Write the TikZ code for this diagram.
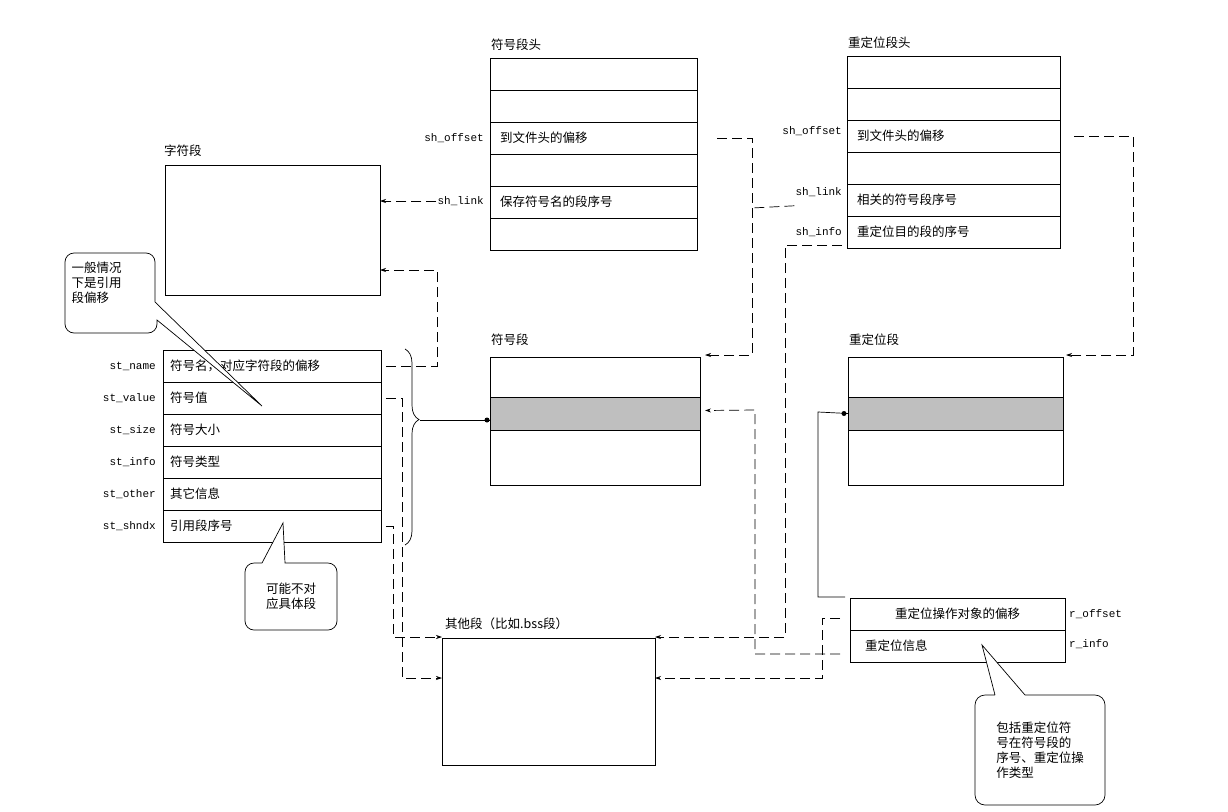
\documentclass[tikz,border=0pt]{standalone}
\usepackage{fontspec}
\setmainfont{Noto Sans CJK SC}
\newfontfamily\monof{Liberation Mono}
\usetikzlibrary{arrows.meta, decorations.pathreplacing, calc}
\begin{document}
\begin{tikzpicture}[x=1pt, y=-1pt,
  every node/.style={font=\fontsize{12.5}{15}\selectfont},
  box/.style={draw, line width=0.8pt, inner sep=0pt, outer sep=0pt},
  row/.style={box, minimum height=32pt, text width=#1-20pt, minimum width=#1, align=left},
  lab/.style={inner sep=1pt, font=\monof\fontsize{11}{13}\selectfont},
  title/.style={anchor=south west, inner sep=1pt},
  link/.style={line width=0.7pt, dash pattern=on 10pt off 5pt, -{Stealth[length=6pt, width=4pt]}},
  solid/.style={line width=0.7pt},
  callout/.style={draw, line width=0.7pt, fill=white}]
\useasboundingbox (0,0) rectangle (1228,811);

% 字符段
\node[title] (tzf) at (163,158) {字符段};
\node[box, minimum width=215pt, minimum height=130pt] (zf) at (272.5,230) {};

% 符号段头
\node[title] (tsh) at (490,52) {符号段头};
\foreach \i/\t in {1/,2/,3/到文件头的偏移,4/,5/保存符号名的段序号,6/}
  \node[row=207pt] (s\i) at (593.5,42+32*\i) {\t};

% 重定位段头
\node[title] (trh) at (847,50) {重定位段头};
\foreach \i/\t in {1/,2/,3/到文件头的偏移,4/,5/相关的符号段序号,6/重定位目的段的序号}
  \node[row=213pt] (r\i) at (953.5,40+32*\i) {\t};
\node[lab, anchor=east] (lso) at (485,138) {sh\_offset};
\node[lab, anchor=east] (lsl) at (485,201) {sh\_link};
\node[lab, anchor=east] (lro) at (843,131) {sh\_offset};
\node[lab, anchor=east] (lrl) at (843,192) {sh\_link};
\node[lab, anchor=east] (lri) at (843,232) {sh\_info};

% 符号段
\node[title] (tsym) at (490,347) {符号段};
\node[box, minimum width=210pt, minimum height=128pt] (sym) at (595,421) {};
\node[box, fill=black!25, minimum width=210pt, minimum height=33pt] (symb) at (595,413.5) {};

% 重定位段
\node[title] (trel) at (848,347) {重定位段};
\node[box, minimum width=215pt, minimum height=128pt] (rel) at (955.5,421) {};
\node[box, fill=black!25, minimum width=215pt, minimum height=33pt] (relb) at (955.5,413.5) {};

% 符号表项
\foreach \i/\t/\l in {1/符号名，对应字符段的偏移/st\_name, 2/符号值/st\_value, 3/符号大小/st\_size,
    4/符号类型/st\_info, 5/其它信息/st\_other, 6/引用段序号/st\_shndx} {
  \node[row=218pt, text width=204pt] (t\i) at (272,334+32*\i) {\t};
  \node[lab, anchor=east] (l\i) at (157,334+32*\i) {\l};
}

% 其他段
\node[title] (toth) at (444,631) {其他段（比如.bss段）};
\node[box, minimum width=213pt, minimum height=127pt] (oth) at (548.5,701.5) {};

% 重定位项
\node[row=215pt, text width=185pt, align=center] (e1) at (957.5,614) {重定位操作对象的偏移};
\node[row=215pt, text width=185pt] (e2) at (957.5,646) {重定位信息};
\node[lab, anchor=west] (le1) at (1068,614) {r\_offset};
\node[lab, anchor=west] (le2) at (1068,644) {r\_info};

% 连接
\draw[link] (lsl.west) -- (lsl.west -| zf.east);
\draw[link] (t1.east) ++(5,0) -| (437,270) -- (zf.east |- 0,270);
\draw[link] (s3.east) ++(20,0) -| (752,355) -- ($(sym.north east)+(5,-2)$);
\draw[link] (r3.east) ++(14,0) -| (1133,355) -- ($(rel.north east)+(3,-2)$);
\draw[solid, line width=0.7pt, dash pattern=on 10pt off 5pt] (lrl.south west) ++(0,8) -- (752,208);
\draw[link] (r6.south west) ++(-5,-3) -| (785,637) -- (oth.east |- 0,637);
\draw[link] (e2.west) ++(-10,8) -| (755,410) -- ($(symb.east)+(5,-3)$);
\draw[link] (e1.west) ++(-10,4) -| (822,678) -- (oth.east |- 0,678);
\draw[solid] (e1.north west) ++(-5,-1) -| (818,412) -- (relb.west);
\fill (relb.west) ++(-4,0) circle (2.5pt);
\draw[link] (t2.east) ++(5,0) -| (402,678) -- (oth.west |- 0,678);
\draw[link] (t6.east) ++(5,0) -| (393,637) -- (oth.west |- 0,637);
\draw[solid, decorate, decoration={brace, amplitude=14pt, aspect=0.36}] (405,349) -- (405,545);
\draw[solid] (420,420) -- (sym.west |- 0,420);
\fill (sym.west |- 0,420) ++(-3,0) circle (2.5pt);

% 说明
\draw[callout] (155,302) -- (262,406) -- (157,320) [rounded corners=9pt] |- (65,333) |- (155,253) -- (155,302);
\node[align=left, anchor=north west] (c1) at (68,258) {一般情况\\下是引用\\段偏移};
\draw[callout] (262,563) -- (283,523) -- (285,563) [rounded corners=9pt] -| (337,630) -| (245,563) -- (262,563);
\node[align=left] (c2) at (291,596) {可能不对\\应具体段};
\draw[callout] (995,695) -- (982,645) -- (1025,695) [rounded corners=10pt] -| (1105,805) -| (975,695) -- (995,695);
\node[align=left] (c3) at (1040,750) {包括重定位符\\号在符号段的\\序号、重定位操\\作类型};
\end{tikzpicture}
\end{document}
